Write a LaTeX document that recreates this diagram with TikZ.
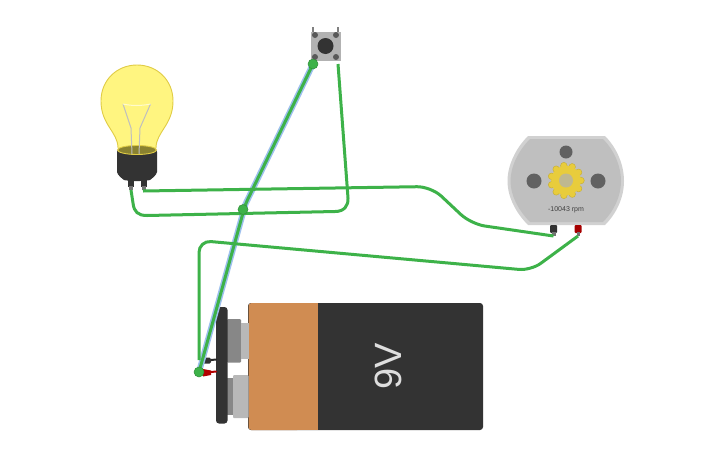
\documentclass[tikz,border=0pt]{standalone}
\usepackage{fontspec}
\setmainfont{Liberation Sans}
\usepackage{tikz}

\definecolor{wiregreen}{HTML}{3DB249}
\definecolor{wireblue}{HTML}{9DC0EE}
\definecolor{batdark}{HTML}{333333}
\definecolor{batorange}{HTML}{D08C52}
\definecolor{geargold}{HTML}{E8CC3C}
\definecolor{glassyellow}{HTML}{FFF580}
\definecolor{glassedge}{HTML}{E0CC45}
\definecolor{socketolive}{HTML}{8A8230}

\tikzset{
	wire/.style={draw=wiregreen, line width=3pt, rounded corners=12pt},
	solder/.style={fill=wiregreen, draw=wiregreen!80!black, line width=0.5pt},
	pinlead/.style={line width=2pt, line cap=round},
	motorhole/.style={fill=black!62},
}

\begin{document}
\begin{tikzpicture}[x=1pt,y=-1pt]
			
			% Canvas
			\useasboundingbox (0,0) rectangle (725,453);
			\fill[white] (0,0) rectangle (725,453);
			
			% Terminals
			\coordinate (lampLeft) at (131,190);
			\coordinate (lampRight) at (143,191);
			\coordinate (switchLeft) at (313,64);
			\coordinate (switchRight) at (338,64);
			\coordinate (motorBlack) at (553.5,236);
			\coordinate (motorRed) at (578,236);
			\coordinate (batBlack) at (199,360);
			\coordinate (batRed) at (199,372);
			\coordinate (junction) at (243,209.5);
			
			% Battery body
			\fill[batdark, rounded corners=3pt] (248,303) rectangle (483,430);
			\fill[batorange, rounded corners=3pt] (248.5,303) -- (248.5,430) -- (300,430) -- (300,303) -- cycle;
			\fill[batorange] (290,303) rectangle (318,430);
			\node[rotate=90, text=black!13, font=\fontsize{38}{38}\selectfont, inner sep=0pt] (voltage) at (388,366) {9V};
			
			% Battery snaps and clip
			\fill[black!47, rounded corners=1pt] (227,319) rectangle (241,362.5);
			\fill[black!28] (241,323) rectangle (248.5,359);
			\fill[black!47] (227,378) rectangle (233,415);
			\fill[black!28, rounded corners=1pt] (233,375) rectangle (248.5,418);
			\fill[batdark, rounded corners=3pt] (216,307) rectangle (227.5,423.5);
			
			% Battery leads
			\draw[pinlead, black!85] (216,359.5) -- (206,360.5);
			\fill[batdark, rounded corners=1.5pt] (201,357.5) rectangle (211,363.5);
			\draw[pinlead, red!70!black] (216,371.5) -- (206,372.5);
			\fill[red!70!black] (203,369) -- (211,370.5) -- (211,375) -- (203,376.5) -- cycle;
			
			% Lamp base
			\fill[batdark, rounded corners=5pt] (117,147) -- (117,167) .. controls (117,175) and (124,180) .. (129,181) -- (145,181) .. controls (150,180) and (157,175) .. (157,167) -- (157,147) -- cycle;
			\fill[batdark] (127.5,178) rectangle (134,187);
			\fill[batdark] (140.5,178) rectangle (147,187);
			\fill[black!55] (129,186) rectangle (133,190);
			\fill[black!55] (142,186) rectangle (146,190);
			
			% Lamp glass
			\draw[fill=glassyellow, draw=glassedge, line width=0.9pt] (118,148) .. controls (118,132) and (101,125) .. (101,101) .. controls (101,80) and (117,65) .. (137,65) .. controls (157,65) and (173,80) .. (173,101) .. controls (173,125) and (156,132) .. (156,148) .. controls (150,156) and (124,156) .. (118,148) -- cycle;
			\draw[fill=socketolive, draw=glassedge, line width=0.9pt] (137,150) ellipse (19.5 and 4.5);
			
			% Filament
			\draw[black!25, line width=1pt] (123,104) -- (131,128) -- (132,154);
			\draw[black!25, line width=1pt] (150.5,104) -- (140,128) -- (139,154);
			\draw[glassyellow!40!white, line width=1pt] (123,104) .. controls (132,106) and (141,106) .. (150.5,104);
			
			% Push button
			\draw[black!50, line width=1.4pt] (313,27) -- (313,33);
			\draw[black!50, line width=1.4pt] (338,27) -- (338,33);
			\fill[black!30] (311,32) rectangle (341,61);
			\foreach \px/\py in {315/35, 336/35, 315/57, 336/57}
				\fill[black!65] (\px,\py) circle (3);
			\fill[batdark] (325.5,46) circle (8);
			
			% Motor housing
			\fill[black!18] (528,136) -- (605,136) .. controls (617,148) and (624,165) .. (624,181) .. controls (624,197) and (617,213) .. (605,225) -- (528,225) .. controls (516,213) and (507.5,197) .. (507.5,181) .. controls (507.5,165) and (516,148) .. (528,136) -- cycle;
			\fill[black!25] (530,139) -- (603,139) .. controls (614,150) and (621,166) .. (621,181) .. controls (621,196) and (614,211) .. (603,222) -- (530,222) .. controls (519,211) and (510.5,196) .. (510.5,181) .. controls (510.5,166) and (519,150) .. (530,139) -- cycle;
			\fill[motorhole] (566,152) circle (6.5);
			\fill[motorhole] (534,181) circle (7.5);
			\fill[motorhole] (598,181) circle (7.5);
			
			% Motor gear
			\foreach \a in {0,32.7,...,328}
				\draw[fill=geargold, draw=geargold!85!black, line width=0.4pt] (566,180.5) ++(\a:15) circle (3.3);
			\fill[geargold] (566,180.5) circle (14.8);
			\fill[geargold!55!black!50!white] (566,180.5) circle (7);
			\node[font=\fontsize{7}{7}\selectfont, text=black!75, inner sep=0pt] (rpm) at (566,209.5) {-10043 rpm};
			
			% Motor leads
			\fill[batdark, rounded corners=1pt] (550,225) rectangle (557,233);
			\fill[red!65!black, rounded corners=1pt] (574.5,225) rectangle (581.5,233);
			\fill[black!55] (552,232) rectangle (555.5,236);
			\fill[black!55] (576.5,232) rectangle (580,236);
			
			% Wires
			\draw[wireblue, line width=6pt] (switchLeft) -- (245.5,204) -- (batRed);
			\draw[wire, rounded corners=4pt] (switchLeft) -- (245.5,204) -- (batRed);
			\draw[wire, rounded corners=0pt] (lampLeft) -- (133,203) .. controls (134,212) and (138,215.5) .. (147,215.5) -- (335,211.5) .. controls (344,211.5) and (348.5,206) .. (348,198) -- (switchRight);
			\draw[wire, rounded corners=14pt] (lampRight) -- (431,186.5) -- (471,224) -- (motorBlack);
			\draw[wire] (motorRed) -- (531,270.5) -- (199,240.5) -- (batBlack);
			
			% Solder points
			\fill[solder] (switchLeft) circle (5);
			\fill[solder] (junction) circle (5);
			\fill[solder] (batRed) circle (5);
			
		\end{tikzpicture}
\end{document}
